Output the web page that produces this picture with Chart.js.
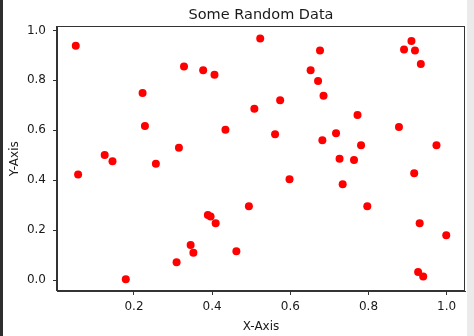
<!DOCTYPE html>
<html>
<head>
<meta charset="utf-8">
<script src="https://cdn.jsdelivr.net/npm/chart.js@4"></script>
<style>
    html, body { margin: 0; padding: 0; background: #fff; }
    #wrap { position: relative; width: 474px; height: 336px; overflow: hidden; }
    #leftStrip { position: absolute; left: 0; top: 0; width: 3px; height: 336px; background: #2e2e2e; }
    #rightStrip { position: absolute; left: 467px; top: 0; width: 7px; height: 336px; background: #ebebeb; }
    canvas { position: absolute; left: 0; top: 0; }
</style>
</head>
<body>
<div id="wrap">
    <div id="leftStrip"></div>
    <div id="rightStrip"></div>
    <canvas id="scatterChart" width="474" height="336"></canvas>
</div>
<script>
// 數據
const xValues = [0.051, 0.328, 0.377, 0.406, 0.222, 0.228, 0.434, 0.125, 0.145, 0.256,
    0.315, 0.523, 0.676, 0.910, 0.891, 0.919, 0.934, 0.652, 0.671, 0.685,
    0.574, 0.508, 0.772, 0.878, 0.561, 0.717, 0.682, 0.781, 0.974, 0.726,
    0.763, 0.917, 0.057, 0.389, 0.396, 0.409, 0.345, 0.352, 0.309, 0.179,
    0.462, 0.598, 0.734, 0.494, 0.797, 0.931, 0.999, 0.927, 0.940];
const yValues = [0.939, 0.856, 0.841, 0.822, 0.749, 0.617, 0.602, 0.501, 0.476, 0.466,
    0.530, 0.968, 0.920, 0.958, 0.924, 0.920, 0.866, 0.841, 0.797, 0.738,
    0.720, 0.686, 0.661, 0.613, 0.584, 0.588, 0.560, 0.540, 0.540, 0.486,
    0.481, 0.428, 0.423, 0.261, 0.255, 0.228, 0.141, 0.110, 0.072, 0.004,
    0.116, 0.404, 0.384, 0.296, 0.296, 0.228, 0.180, 0.033, 0.015];
const xTicks = [0.2, 0.4, 0.6, 0.8, 1.0];
const yTicks = [0.0, 0.2, 0.4, 0.6, 0.8, 1.0];

const textColor = '#1a1a1a';
const fontFamily = '"DejaVu Sans", sans-serif';

// 畫外框 (上、右邊)
const frame = {
    id: 'frame',
    afterDatasetsDraw(chart) {
        const { ctx, chartArea: a } = chart;
        ctx.save();
        ctx.strokeStyle = '#333';
        ctx.lineWidth = 1;
        ctx.strokeRect(Math.round(a.left) - 0.5, Math.round(a.top) + 0.5, Math.round(a.right - a.left), Math.round(a.bottom - a.top) - 1);
        ctx.restore();
    }
};

const points = xValues.map((x, i) => ({ x: x, y: yValues[i] }));

new Chart(document.getElementById('scatterChart').getContext('2d'), {
    type: 'scatter',
    data: {
        datasets: [{
            data: points,
            backgroundColor: '#ff0000',
            borderWidth: 0,
            pointRadius: 4,
            pointHoverRadius: 4
        }]
    },
    options: {
        responsive: false,
        animation: false,
        layout: { padding: { left: 0, right: 9, top: 0, bottom: 0 } },
        plugins: {
            legend: { display: false },
            tooltip: { enabled: false },
            title: {
                display: true,
                text: 'Some Random Data',
                fullSize: false,
                color: textColor,
                font: { family: fontFamily, size: 14.5, weight: 'normal' },
                padding: { top: 7, bottom: 2 }
            }
        },
        scales: {
            x: {
                type: 'linear',
                min: 0.003,
                max: 1.047,
                afterBuildTicks: axis => { axis.ticks = xTicks.map(v => ({ value: v })); },
                afterFit: axis => { axis.height = 45; },
                grid: { drawOnChartArea: false, drawTicks: true, tickLength: 4, color: '#333' },
                border: { display: true, color: '#333' },
                ticks: {
                    color: textColor,
                    font: { family: fontFamily, size: 12 },
                    padding: 5,
                    maxRotation: 0,
                    callback: v => v.toFixed(1)
                },
                title: {
                    display: true,
                    text: 'X-Axis',
                    color: textColor,
                    font: { family: fontFamily, size: 12 },
                    padding: { top: 5, bottom: 2 }
                }
            },
            y: {
                type: 'linear',
                min: -0.043,
                max: 1.016,
                afterBuildTicks: axis => { axis.ticks = yTicks.map(v => ({ value: v })); },
                afterFit: axis => { axis.width = 57; },
                grid: { drawOnChartArea: false, drawTicks: true, tickLength: 4, color: '#333' },
                border: { display: true, color: '#333' },
                ticks: {
                    color: textColor,
                    font: { family: fontFamily, size: 12 },
                    padding: 7,
                    callback: v => v.toFixed(1)
                },
                title: {
                    display: true,
                    text: 'Y-Axis',
                    color: textColor,
                    font: { family: fontFamily, size: 12 },
                    padding: { top: 8, bottom: 2 }
                }
            }
        }
    },
    plugins: [frame]
});
</script>
</body>
</html>
